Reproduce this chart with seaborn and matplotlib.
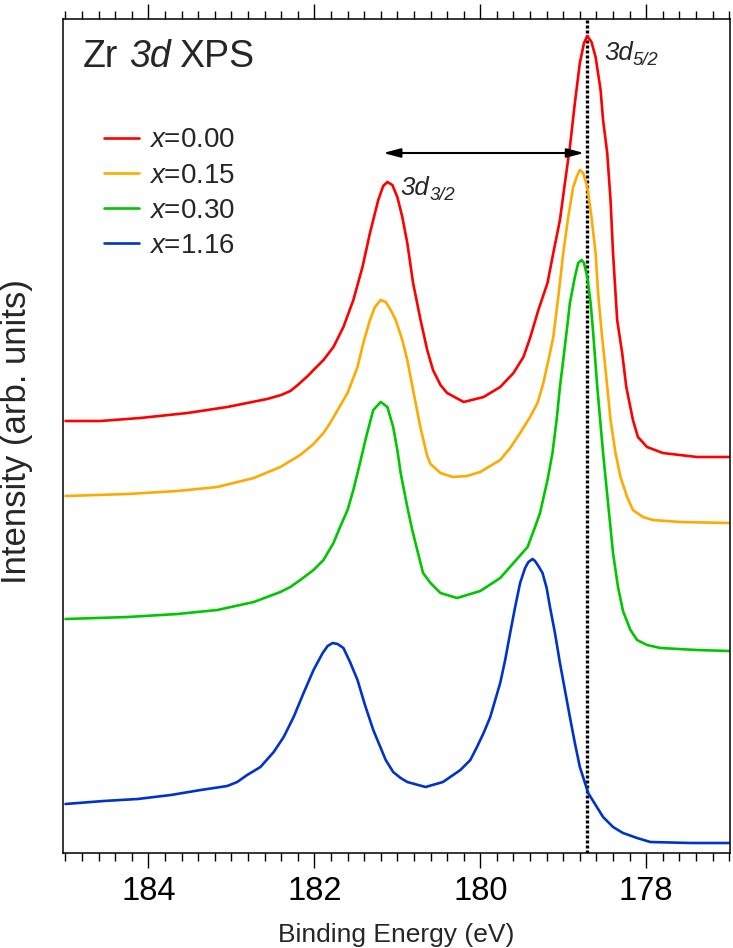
import numpy as np
import pandas as pd
import matplotlib
matplotlib.use("Agg")
import matplotlib.pyplot as plt
from matplotlib.ticker import MultipleLocator
from matplotlib.lines import Line2D
import seaborn as sns

# ---------------- data ----------------
series_labels = ["x=0.00", "x=0.15", "x=0.30", "x=1.16"]
series_colors = ["#ff0000", "#ffaa00", "#00c800", "#0033cc"]

energy_x000 = [185.00, 184.58, 184.10, 183.53, 183.05, 182.57, 182.40, 182.29, 182.20, 182.08,
               182.01, 181.89, 181.77, 181.65, 181.53, 181.42, 181.33, 181.23, 181.17, 181.12,
               181.06, 181.00, 180.94, 180.88, 180.81, 180.72, 180.64, 180.57, 180.48, 180.40,
               180.20, 179.96, 179.76, 179.60, 179.48, 179.40, 179.30, 179.19, 179.12, 179.04,
               178.98, 178.92, 178.86, 178.80, 178.75, 178.71, 178.66, 178.61, 178.55, 178.52,
               178.47, 178.43, 178.40, 178.35, 178.29, 178.24, 178.16, 178.10, 177.99, 177.80,
               177.39, 177.00]
intensity_x000 = [432, 432, 435, 440, 446, 454, 458, 462, 468, 477,
                  483, 493, 506, 526, 553, 586, 620, 653, 667, 671,
                  668, 656, 636, 610, 570, 533, 503, 483, 468, 460,
                  451, 456, 466, 480, 496, 515, 543, 570, 600, 633,
                  670, 706, 750, 790, 810, 817, 811, 796, 763, 733,
                  700, 653, 600, 533, 500, 466, 433, 416, 406, 400,
                  396, 396]

energy_x015 = [185.00, 184.25, 183.65, 183.17, 182.73, 182.41, 182.17, 182.01, 181.89, 181.81,
               181.60, 181.48, 181.41, 181.33, 181.27, 181.20, 181.14, 181.08, 181.02, 180.94,
               180.88, 180.81, 180.72, 180.64, 180.60, 180.48, 180.33, 180.16, 180.00, 179.76,
               179.64, 179.52, 179.40, 179.31, 179.24, 179.16, 179.12, 179.06, 179.00, 178.94,
               178.88, 178.83, 178.80, 178.76, 178.71, 178.66, 178.61, 178.58, 178.54, 178.49,
               178.43, 178.37, 178.31, 178.23, 178.16, 178.04, 177.92, 177.59, 177.00]
intensity_x015 = [357, 359, 362, 366, 375, 386, 398, 409, 420, 430,
                  460, 486, 510, 533, 546, 553, 551, 543, 533, 513,
                  493, 463, 425, 397, 389, 380, 376, 377, 381, 393,
                  405, 420, 436, 450, 470, 500, 516, 556, 600, 636,
                  666, 678, 683, 680, 666, 636, 600, 560, 523, 483,
                  433, 400, 376, 356, 343, 336, 333, 331, 330]

energy_x030 = [185.00, 184.25, 183.65, 183.17, 182.73, 182.41, 182.29, 182.17, 182.01, 181.89,
               181.77, 181.69, 181.60, 181.53, 181.45, 181.37, 181.29, 181.20, 181.12, 181.05,
               181.00, 180.96, 180.88, 180.82, 180.76, 180.69, 180.60, 180.48, 180.28, 180.00,
               179.76, 179.60, 179.43, 179.34, 179.28, 179.19, 179.13, 179.08, 179.04, 178.99,
               178.95, 178.92, 178.86, 178.82, 178.78, 178.75, 178.71, 178.67, 178.64, 178.59,
               178.52, 178.46, 178.40, 178.34, 178.28, 178.19, 178.11, 177.99, 177.83, 177.39,
               177.00]
intensity_x030 = [234, 236, 239, 243, 251, 261, 266, 273, 283, 293,
                  310, 326, 343, 363, 390, 418, 443, 451, 446, 426,
                  403, 380, 346, 323, 303, 280, 270, 260, 255, 262,
                  275, 290, 306, 326, 340, 373, 400, 433, 466, 500,
                  528, 550, 576, 590, 593, 590, 576, 550, 521, 466,
                  400, 350, 300, 266, 242, 223, 213, 208, 205, 203,
                  202]

energy_x116 = [185.00, 184.54, 184.13, 183.73, 183.37, 183.05, 182.93, 182.81, 182.65, 182.49,
               182.37, 182.25, 182.13, 182.01, 181.90, 181.84, 181.78, 181.72, 181.65, 181.57,
               181.48, 181.39, 181.29, 181.20, 181.14, 181.05, 180.96, 180.88, 180.66, 180.45,
               180.24, 180.12, 180.04, 179.96, 179.88, 179.82, 179.76, 179.70, 179.64, 179.58,
               179.52, 179.46, 179.42, 179.37, 179.34, 179.30, 179.25, 179.20, 179.16, 179.10,
               179.04, 178.98, 178.92, 178.86, 178.80, 178.73, 178.70, 178.61, 178.52, 178.40,
               178.28, 178.11, 177.95, 177.47, 177.00]
intensity_x116 = [49, 52, 54, 58, 63, 67, 71, 78, 86, 101,
                  116, 136, 160, 183, 200, 207, 210, 209, 205, 191,
                  173, 148, 123, 105, 93, 81, 75, 71, 66, 71,
                  83, 93, 106, 120, 136, 153, 170, 193, 220, 246,
                  270, 285, 291, 294, 292, 287, 280, 265, 246, 220,
                  190, 163, 136, 110, 86, 68, 60, 48, 36, 26,
                  20, 15, 11, 10, 10]

peak_line_energy = 178.71
arrow_start = 181.17
arrow_end = 178.75
arrow_level = 700
xticks_major = [184, 182, 180, 178]

# ---------------- style ----------------
sns.set_theme(style="ticks")
plt.rcParams["font.family"] = ["Liberation Sans", "DejaVu Sans"]
plt.rcParams["mathtext.fontset"] = "custom"
plt.rcParams["mathtext.rm"] = "Liberation Sans"
plt.rcParams["mathtext.it"] = "Liberation Sans:italic"
plt.rcParams["mathtext.bf"] = "Liberation Sans:bold"

frames = []
for lab, e, i in zip(series_labels,
                     [energy_x000, energy_x015, energy_x030, energy_x116],
                     [intensity_x000, intensity_x015, intensity_x030, intensity_x116]):
    frames.append(pd.DataFrame({"energy": e, "intensity": i, "sample": lab}))
df = pd.concat(frames, ignore_index=True)

fig = plt.figure(figsize=(7.33, 9.48), dpi=100)
ax = fig.add_axes([63 / 733, 1 - 853 / 948, 667 / 733, 834 / 948])

sns.lineplot(data=df, x="energy", y="intensity", hue="sample",
             hue_order=series_labels, palette=series_colors,
             estimator=None, linewidth=1.9, ax=ax, legend=False)
for ln in ax.get_lines():
    ln.set_solid_joinstyle("round")
    ln.set_solid_capstyle("round")

ax.axvline(peak_line_energy, color="black", lw=2.4, linestyle=(0, (0.9, 0.6)), zorder=1)

ax.annotate("", xy=(arrow_end, arrow_level), xytext=(arrow_start, arrow_level),
            arrowprops=dict(arrowstyle="<|-|>,head_length=0.6,head_width=0.16",
                            color="black", lw=1.5, mutation_scale=17,
                            shrinkA=0, shrinkB=0))


def label_with_sub(x, y, main, sub, size):
    t = ax.text(x, y, main, fontsize=size, style="italic", va="baseline", ha="left")
    ax.annotate(sub, xy=(1, 0), xycoords=t, xytext=(0.3, 0), textcoords="offset points",
                fontsize=size * 0.72, style="italic", va="baseline", ha="left")


label_with_sub(178.51, 793, "3d", "5/2", 18.5)
label_with_sub(180.96, 658, "3d", "3/2", 18.5)

t1 = ax.text(0.03, 0.942, "Zr", transform=ax.transAxes, fontsize=27,
             va="baseline", ha="left")
t2 = ax.annotate("3d", xy=(1, 0), xycoords=t1, xytext=(7.5, 0),
                 textcoords="offset points", fontsize=27, style="italic",
                 va="bottom", ha="left")
ax.annotate("XPS", xy=(1, 0), xycoords=t2, xytext=(6.5, 0),
            textcoords="offset points", fontsize=27, va="bottom", ha="left")

# legend
handles = [Line2D([0], [0], color=c, lw=1.9) for c in series_colors]
leg_labels = [r"$x$=" + s.split("=")[1] for s in series_labels]
ax.legend(handles, leg_labels, loc="upper left", bbox_to_anchor=(0.0615, 0.870),
          frameon=False, fontsize=20, handlelength=1.26, handletextpad=0.36,
          labelspacing=0.33, borderaxespad=0, borderpad=0)

ax.set_xlim(185.03, 176.99)
ax.set_ylim(0, 834)
ax.set_xticks(xticks_major)
ax.xaxis.set_minor_locator(MultipleLocator(0.2))
ax.set_yticks([])
ax.tick_params(axis="x", which="both", direction="out", top=True, bottom=True,
               labeltop=False, colors="black", width=1.0)
ax.tick_params(axis="x", which="major", length=10.8, labelsize=23.5, pad=6)
ax.tick_params(axis="x", which="minor", length=5.8)
for sp in ax.spines.values():
    sp.set_visible(True)
    sp.set_linewidth(1.1)
    sp.set_color("black")

ax.set_xlabel("Binding Energy (eV)", fontsize=19, labelpad=11)
ax.set_ylabel("Intensity (arb. units)", fontsize=25)
ax.yaxis.set_label_coords(-0.045, 0.505)

fig.savefig("out.png", dpi=100)
